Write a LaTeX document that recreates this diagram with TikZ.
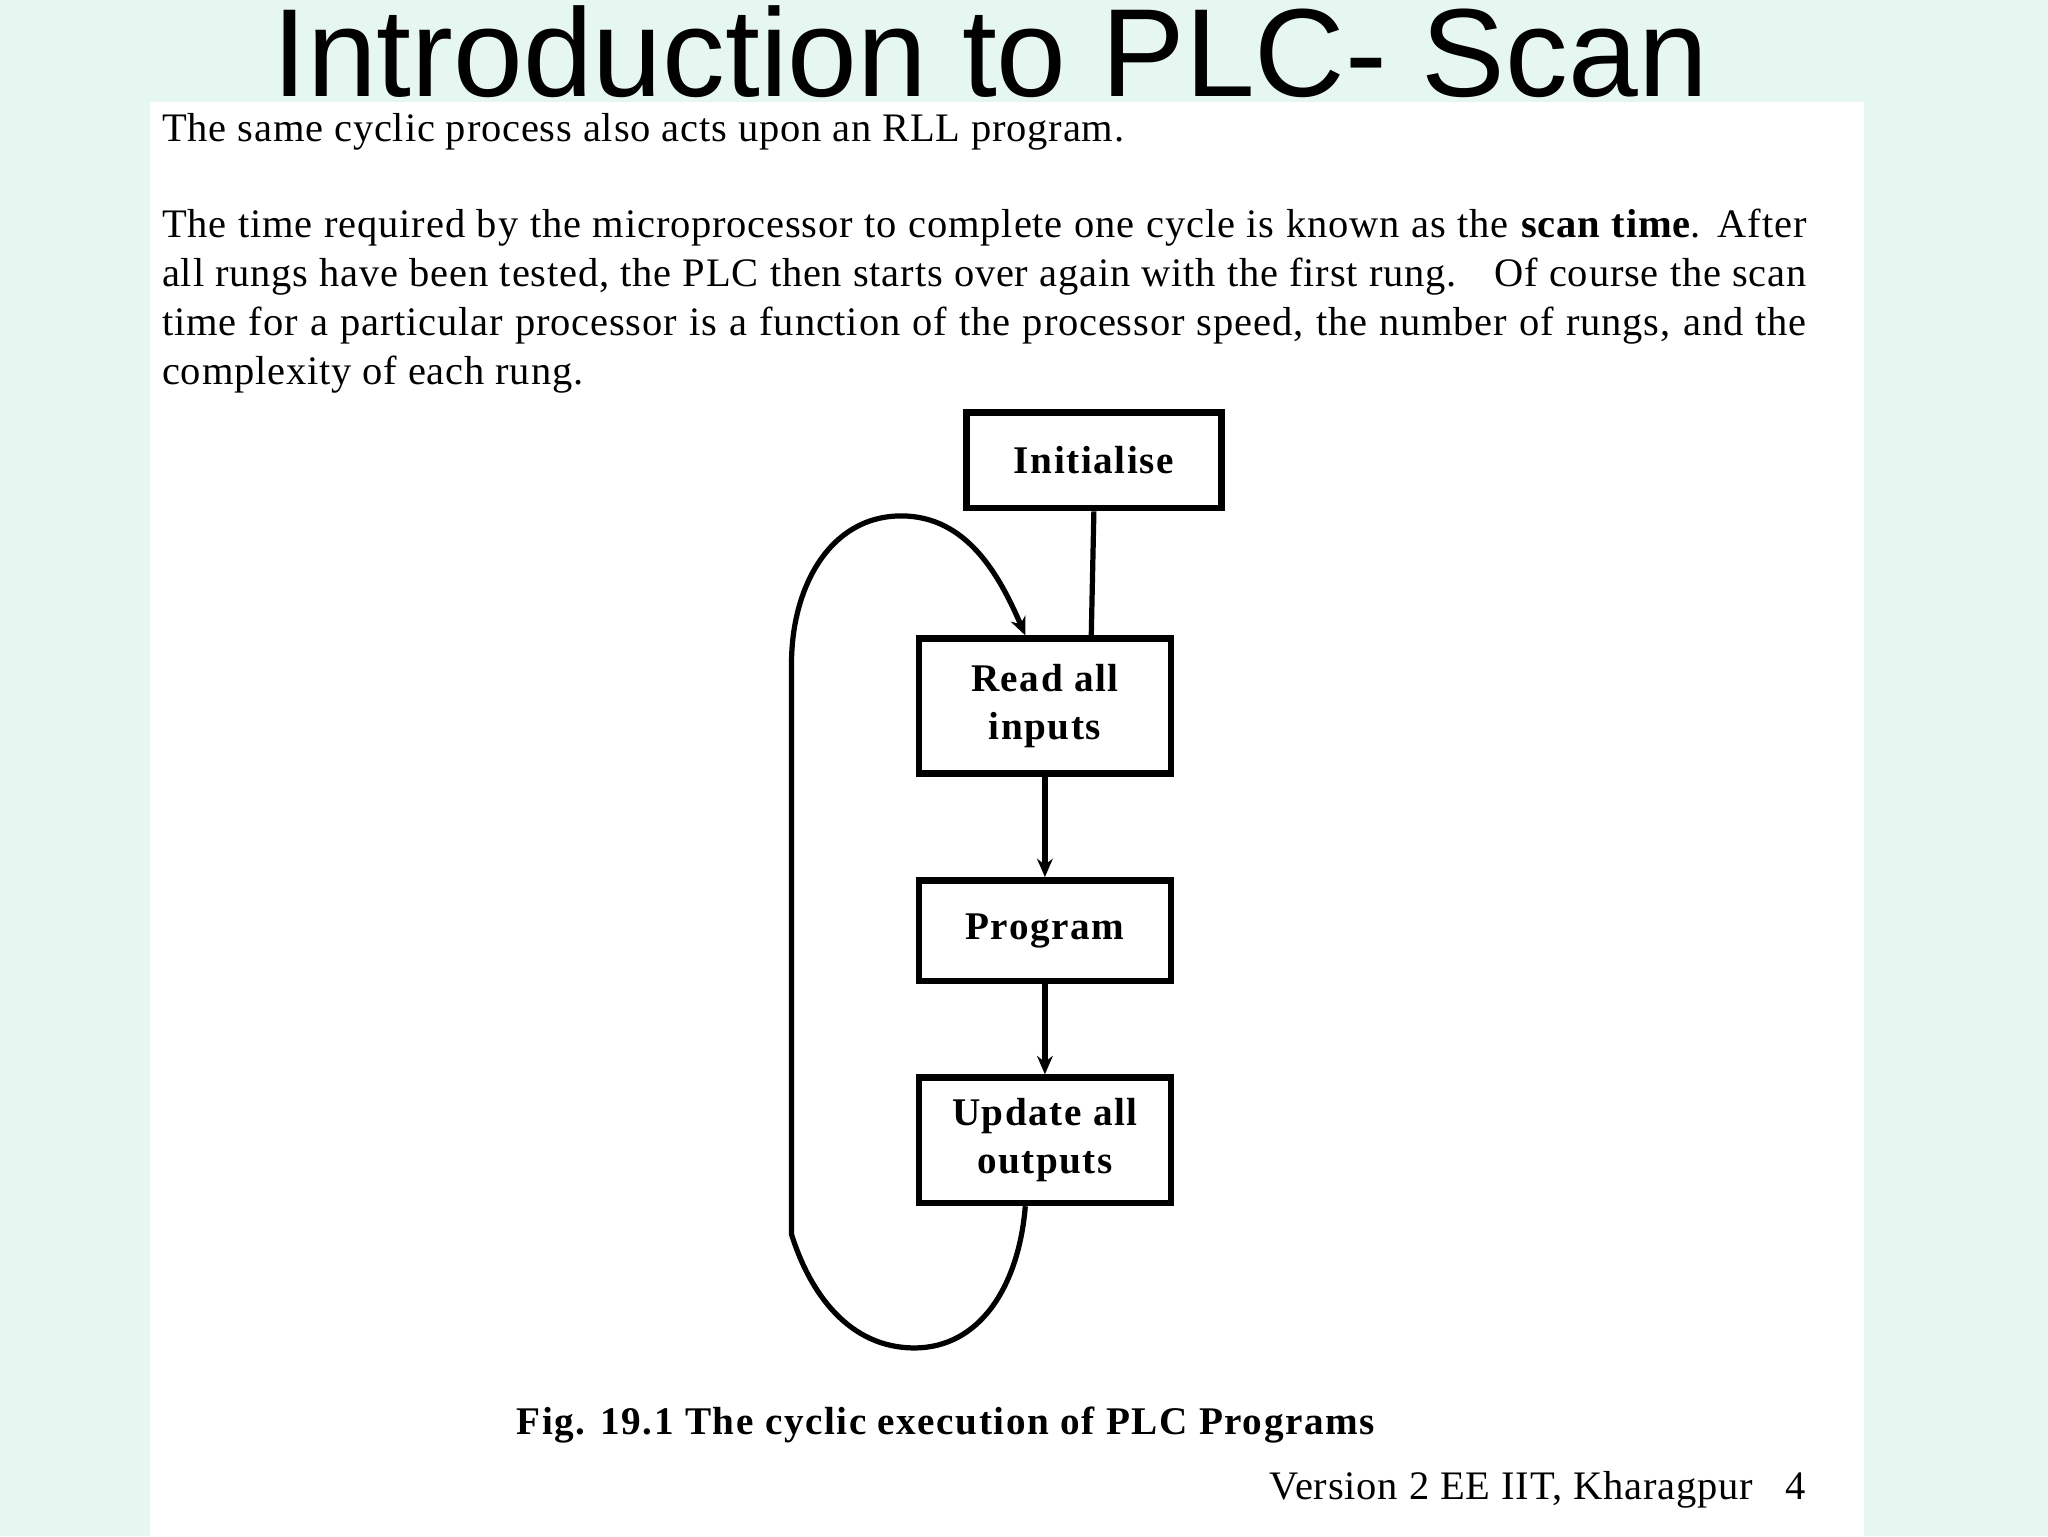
\documentclass[tikz,border=0pt]{standalone}
\usepackage{fontspec}
\setmainfont{Liberation Serif}
\newfontfamily\titlefont{Liberation Sans}
\usetikzlibrary{arrows.meta}
\begin{document}
\begin{tikzpicture}[x=1pt,y=-1pt,
  boxn/.style={draw,line width=5pt,minimum width=193pt,inner sep=0pt,font=\fontsize{30}{37}\selectfont\bfseries\addfontfeature{LetterSpace=4},align=center},
  conn/.style={line width=4pt},
  txt/.style={anchor=base west,inner sep=0pt,font=\fontsize{31}{37}\selectfont\addfontfeature{LetterSpace=2}}]
\useasboundingbox (0,0) rectangle (1568,1176);
\fill[fill={rgb,255:red,230;green,246;blue,240}] (0,0) rectangle (1568,1176);
\fill[white] (115,78) rectangle (1427,1176);
\node[anchor=base,inner sep=0pt,font=\titlefont\fontsize{96}{100}\selectfont] (title) at (758,74) {Introduction to PLC- Scan};
\node[txt] (l1) at (124,108) {The same cyclic process also acts upon an RLL program.};
\node[txt] (l2) at (124,182) {\makebox[1259pt][s]{The time required by the microprocessor to complete one cycle is known as the \textbf{scan time}. After}};
\node[txt] (l3) at (124,219) {\makebox[1259pt][s]{all rungs have been tested, the PLC then starts over again with the first rung. \ \ Of course the scan}};
\node[txt] (l4) at (124,257) {\makebox[1259pt][s]{time for a particular processor is a function of the processor speed, the number of rungs, and the}};
\node[txt] (l5) at (124,294) {complexity of each rung.};
\node[boxn,minimum width=195pt,minimum height=73pt] (init) at (837.5,352.5) {Initialise};
\node[boxn,minimum height=103pt] (read) at (800,540.5) {Read all\\inputs};
\node[boxn,minimum height=77pt] (prog) at (800,712.5) {Program};
\node[boxn,minimum height=96pt] (upd) at (800,873) {Update all\\outputs};
\draw[conn] (init.south) -- ([xshift=-2pt]read.north -| init.south);
\draw[conn,-{Stealth[length=14pt,width=12pt]}] (read.south) -- (prog.north);
\draw[conn,-{Stealth[length=14pt,width=12pt]}] (prog.south) -- (upd.north);
\coordinate (lt) at (606,508);
\coordinate (lb) at (606,945);
\draw[conn,-{Stealth[length=14pt,width=12pt]}] ([xshift=-15pt]upd.south) .. controls (780,985) and (750,1032) .. (700,1032)
  .. controls (650,1032) and (620,990) .. (lb) -- (lt)
  .. controls (606,450) and (635,395) .. (690,395)
  .. controls (740,395) and (765,440) .. ([xshift=-15pt]read.north);
\node[anchor=base,inner sep=0pt,font=\fontsize{30}{35}\selectfont\bfseries\addfontfeature{LetterSpace=4}] (cap) at (724,1098) {Fig. 19.1 The cyclic execution of PLC Programs};
\node[anchor=base east,inner sep=0pt,font=\fontsize{31}{35}\selectfont\addfontfeature{LetterSpace=2}] (foot) at (1383,1148) {Version 2 EE IIT, Kharagpur\hspace{25pt}4};
\end{tikzpicture}
\end{document}
